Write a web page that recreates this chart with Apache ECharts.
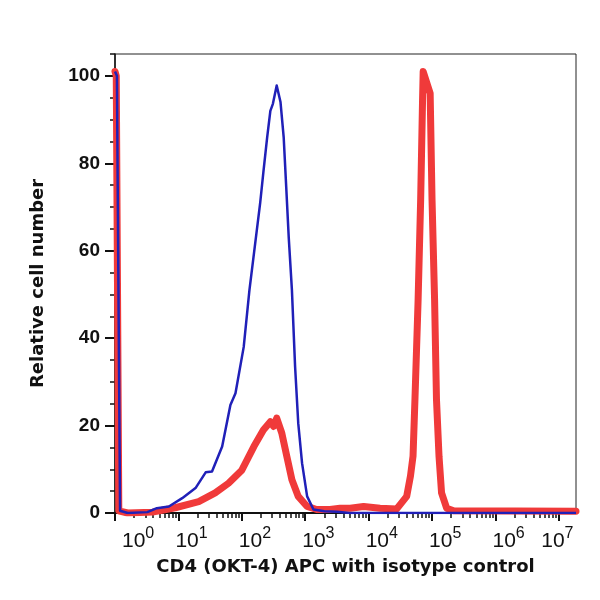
<!DOCTYPE html>
<html>
<head>
<meta charset="utf-8">
<script src="https://cdn.jsdelivr.net/npm/echarts@6/dist/echarts.min.js"></script>
<style>
    html, body { margin: 0; padding: 0; background: #fff; }
    #chart1 { width: 600px; height: 600px; }
</style>
</head>
<body>
<div id="chart1"></div>
<script>
// x values are decades (10^x)
var blueExp = [0, 0.03, 0.08, 0.2, 0.51, 0.66, 0.85, 1.06, 1.27, 1.43, 1.53, 1.69, 1.82, 1.90, 2.03, 2.12, 2.29, 2.34, 2.40, 2.45, 2.49, 2.55, 2.61, 2.66, 2.70, 2.74, 2.79, 2.84, 2.89, 2.95, 3.03, 3.13, 3.3, 3.5, 3.7, 7.27];
var blueCount = [101, 100, 0.5, 0, 0.2, 1.1, 1.5, 3.4, 5.7, 9.3, 9.5, 15.2, 24.7, 27.4, 38, 51, 71, 78, 86, 92, 93.6, 97.8, 94, 86, 74.6, 63, 51, 33.5, 20.5, 11.4, 3.8, 0.8, 0.4, 0.3, 0, 0];
var redExp = [0, 0.02, 0.06, 0.2, 0.59, 0.95, 1.32, 1.58, 1.79, 2.0, 2.19, 2.34, 2.45, 2.50, 2.55, 2.63, 2.71, 2.79, 2.89, 3.03, 3.18, 3.39, 3.55, 3.71, 3.92, 4.18, 4.44, 4.60, 4.66, 4.70, 4.73, 4.78, 4.82, 4.85, 4.86, 4.97, 5.00, 5.04, 5.07, 5.11, 5.15, 5.23, 5.34, 7.27];
var redCount = [101, 100, 0.5, 0, 0.2, 1.2, 2.6, 4.6, 6.8, 9.8, 15.2, 19, 20.9, 19.8, 21.7, 18.3, 12.9, 7.6, 3.8, 1.5, 0.8, 0.8, 1.1, 1.1, 1.5, 1.1, 0.9, 3.8, 8.5, 13, 25.9, 48.7, 71.5, 94.4, 101, 96, 71.5, 48.7, 25.9, 12.9, 4.6, 1.1, 0.5, 0.4];
var decades = [0, 1, 2, 3, 4, 5, 6, 7];
var yTicks = [0, 20, 40, 60, 80, 100];
var yMinorTicks = [5, 10, 15, 25, 30, 35, 45, 50, 55, 65, 70, 75, 85, 90, 95, 105];

function pairs(xs, ys) {
    return xs.map(function (x, i) { return [x, ys[i]]; });
}

// 2..9 x 10^n positions on the decade axis
var xMinorTicks = [];
decades.forEach(function (d) {
    for (var m = 2; m <= 9; m++) {
        var v = d + Math.log10(m);
        if (v < 7.27) xMinorTicks.push(v);
    }
});

var chart = echarts.init(document.getElementById("chart1"));
var baseStyle = { fontFamily: 'Liberation Sans', fontSize: 21, color: '#111', lineHeight: 30 };
var option = {
    backgroundColor: '#fff',
    animation: false,
    grid: {
        left: 115,
        right: 24,
        top: 54,
        bottom: 87,
        show: true,
        borderColor: '#222',
        borderWidth: 1
    },
    xAxis: [{
        type: 'value',
        min: 0,
        max: 7.27,
        name: 'CD4 (OKT-4) APC with isotype control',
        nameLocation: 'middle',
        nameGap: 45,
        nameTextStyle: {
            color: '#111',
            fontFamily: 'DejaVu Sans',
            fontWeight: 'bold',
            fontSize: 18
        },
        splitLine: { show: false },
        axisLine: { lineStyle: { color: '#111', width: 2 } },
        axisTick: {
            customValues: decades,
            length: 8,
            lineStyle: { color: '#111', width: 2 }
        },
        axisLabel: {
            customValues: decades,
            showMinLabel: true,
            showMaxLabel: true,
            align: 'left',
            alignMinLabel: 'left',
            alignMaxLabel: 'center',
            margin: 13,
            formatter: function (v) {
                var b = v === 0 ? 'b0' : 'b';
                return '{' + b + '|10}{s|' + v + '}';
            },
            rich: {
                b: Object.assign({ padding: [0, 0, 0, -3] }, baseStyle),
                b0: Object.assign({ padding: [0, 0, 0, 7] }, baseStyle),
                s: { fontFamily: 'Liberation Sans', fontSize: 16, color: '#111', lineHeight: 16, verticalAlign: 'top' }
            }
        }
    }, {
        type: 'value',
        min: 0,
        max: 7.27,
        position: 'bottom',
        splitLine: { show: false },
        axisLine: { show: false },
        axisTick: {
            customValues: xMinorTicks,
            length: 5,
            lineStyle: { color: '#111', width: 1.5 }
        },
        axisLabel: { show: false }
    }],
    yAxis: [{
        type: 'value',
        min: 0,
        max: 105,
        name: 'Relative cell number',
        nameLocation: 'middle',
        nameGap: 68,
        nameTextStyle: {
            color: '#111',
            fontFamily: 'DejaVu Sans',
            fontWeight: 'bold',
            fontSize: 18
        },
        splitLine: { show: false },
        axisLine: { lineStyle: { color: '#111', width: 1.5 } },
        axisTick: {
            customValues: yTicks,
            length: 10,
            lineStyle: { color: '#111', width: 2 }
        },
        axisLabel: {
            customValues: yTicks,
            margin: 15,
            color: '#111',
            fontFamily: 'Liberation Sans',
            fontWeight: 'bold',
            fontSize: 19
        }
    }, {
        type: 'value',
        min: 0,
        max: 105,
        position: 'left',
        splitLine: { show: false },
        axisLine: { show: false },
        axisTick: {
            customValues: yMinorTicks,
            length: 5,
            lineStyle: { color: '#111', width: 1.5 }
        },
        axisLabel: { show: false }
    }],
    series: [{
        name: 'CD4 APC',
        type: 'line',
        xAxisIndex: 0,
        yAxisIndex: 0,
        showSymbol: false,
        data: pairs(redExp, redCount),
        lineStyle: { color: '#f03a3a', width: 7, join: 'round', cap: 'round' },
        z: 2
    }, {
        name: 'isotype',
        type: 'line',
        xAxisIndex: 0,
        yAxisIndex: 0,
        showSymbol: false,
        data: pairs(blueExp, blueCount),
        lineStyle: { color: '#2020b8', width: 2.5, join: 'round' },
        z: 3
    }]
};
chart.setOption(option);
</script>
</body>
</html>
